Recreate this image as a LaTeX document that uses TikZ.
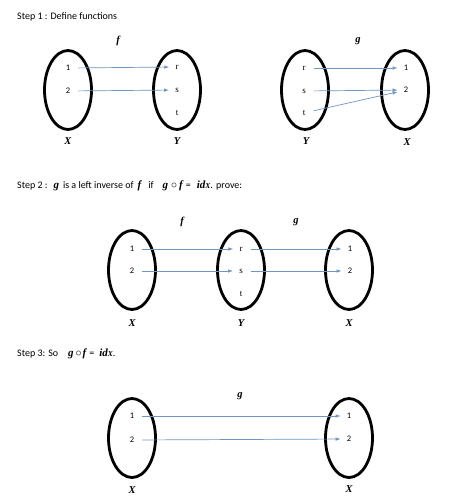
\documentclass[tikz,border=0pt]{standalone}
\usepackage{fontspec}
\setmainfont{Carlito}
\newfontfamily\serf{Liberation Serif}
\usetikzlibrary{shapes.geometric,arrows.meta}
\definecolor{arrcol}{RGB}{112,150,190}
\tikzset{
  setell/.style={draw=black, line width=2.8pt, ellipse, minimum width=47pt, minimum height=79pt, inner sep=0pt},
  num/.style={font=\fontsize{8.5}{10}\selectfont, inner sep=0pt, inner xsep=5pt, minimum height=8pt},
  ltr/.style={font=\serf\fontsize{9}{10}\selectfont, inner sep=0pt, inner xsep=5pt, minimum height=8pt},
  setname/.style={font=\serf\bfseries\itshape\fontsize{10.5}{12}\selectfont, inner sep=1pt},
  fname/.style={font=\serf\bfseries\itshape\fontsize{10.5}{12}\selectfont, inner sep=1pt},
  steptxt/.style={font=\fontsize{10}{12}\selectfont, anchor=base west, inner sep=0pt},
  maparrow/.style={draw=arrcol, line width=0.7pt, -{Latex[length=5pt,width=3.5pt]}, shorten <=3pt, shorten >=1pt}
}
\newcommand{\mi}[1]{{\serf\bfseries\itshape\fontsize{11}{12}\selectfont #1}}
\newcommand{\subX}{{\serf\bfseries\itshape\fontsize{7.5}{8}\selectfont X}}
\begin{document}
\begin{tikzpicture}[x=1pt,y=-1pt]
\useasboundingbox[fill=white] (0,0) rectangle (474,500);

% ---------- Step 1 ----------
\node[steptxt] (s1) at (17,20) {Step 1 : Define functions};

\node[setell] (e1) at (68,90) {};
\node[setell] (e2) at (177,90) {};
\node[fname] (f1) at (118,41) {f};
\node[num] (a1) at (68,68) {1};
\node[num] (a2) at (68,91) {2};
\node[ltr] (b1) at (177,67) {r};
\node[ltr] (b2) at (177,90) {s};
\node[ltr] (b3) at (177,113) {t};
\node[setname] (x1) at (68,141) {X};
\node[setname] (y1) at (177,141) {Y};
\draw[maparrow] (a1) -- (b1);
\draw[maparrow] (a2) -- (b2);

\node[setell] (e3) at (305,90) {};
\node[setell] (e4) at (405,90) {};
\node[fname] (g1) at (358,41) {g};
\node[ltr] (c1) at (304,68) {r};
\node[ltr] (c2) at (304,91) {s};
\node[ltr] (c3) at (304,113) {t};
\node[num] (d1) at (406,68) {1};
\node[num] (d2) at (406,90) {2};
\node[setname] (y2) at (306,141) {Y};
\node[setname] (x2) at (407,142) {X};
\draw[maparrow] (c1) -- (d1);
\draw[maparrow] (c2) -- (d2);
\draw[maparrow] (c3) -- (d2);

% ---------- Step 2 ----------
\node[steptxt] (s2) at (17,188) {Step 2 :\hspace{6pt}\mi{g}\hspace{4pt}is a left inverse of\hspace{4pt}\mi{f}\hspace{7pt}if\hspace{9pt}\mi{g}\hspace{3pt}{\fontsize{12}{12}\selectfont$\circ$}\hspace{2pt}\mi{f}\hspace{3pt}=\hspace{6pt}\mi{id}\subX. \hspace{1pt}prove:};

\node[setell] (e5) at (132,270) {};
\node[setell] (e6) at (241,270) {};
\node[setell] (e7) at (349,270) {};
\node[fname] (f2) at (182,222) {f};
\node[fname] (g2) at (296,222) {g};
\node[num] (p1) at (132,249) {1};
\node[num] (p2) at (132,271) {2};
\node[ltr] (q1) at (241,249) {r};
\node[ltr] (q2) at (241,271) {s};
\node[ltr] (q3) at (241,294) {t};
\node[num] (r1) at (350,249) {1};
\node[num] (r2) at (350,271) {2};
\node[setname] (x3) at (132,323) {X};
\node[setname] (y3) at (241,323) {Y};
\node[setname] (x4) at (349,323) {X};
\draw[maparrow] (p1) -- (q1);
\draw[maparrow] (p2) -- (q2);
\draw[maparrow] (q1) -- (r1);
\draw[maparrow] (q2) -- (r2);

% ---------- Step 3 ----------
\node[steptxt] (s3) at (17,356) {Step 3: So\hspace{10pt}\mi{g}\hspace{2pt}{\fontsize{12}{12}\selectfont$\circ$}\hspace{1pt}\mi{f}\hspace{3pt}=\hspace{5pt}\mi{id}\subX.};

\node[setell] (e8) at (132,438) {};
\node[setell] (e9) at (349,438) {};
\node[fname] (g3) at (240,396) {g};
\node[num] (u1) at (132,416) {1};
\node[num] (u2) at (132,440) {2};
\node[num] (v1) at (349,416) {1};
\node[num] (v2) at (349,439) {2};
\node[setname] (x5) at (132,490) {X};
\node[setname] (x6) at (349,489) {X};
\draw[maparrow] (u1) -- (v1);
\draw[maparrow] (u2) -- (v2);
\end{tikzpicture}
\end{document}
